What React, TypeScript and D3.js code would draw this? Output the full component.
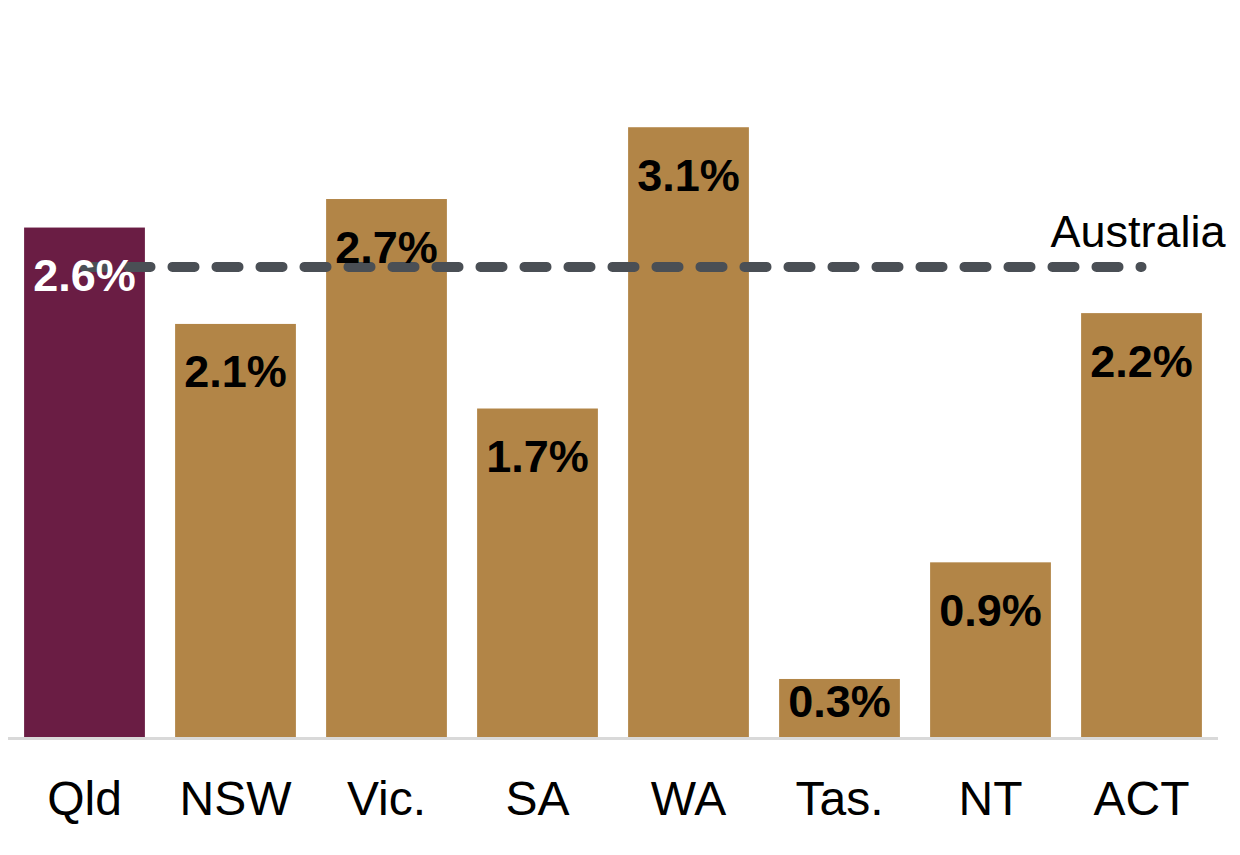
import * as d3 from "d3";

const states = ["Qld", "NSW", "Vic.", "SA", "WA", "Tas.", "NT", "ACT"];
const growth = [2.59, 2.1, 2.735, 1.67, 3.1, 0.295, 0.888, 2.155];
const australia = 2.39;
const australiaLabel = "Australia";

const width = 1240;
const height = 855;
const baseline = 737;
const font = "'Liberation Sans', Arial, sans-serif";

const fmt = (v: number) => `${d3.format(".1f")(v)}%`;

export default function App() {
  const x = d3.scaleBand<string>()
    .domain(states)
    .range([9, 1217])
    .paddingInner(0.2)
    .paddingOuter(0.1);

  const y = d3.scaleLinear()
    .domain([0, 3.5])
    .range([baseline, baseline - 3.5 * 196.7]);

  const bw = x.bandwidth();
  const first = x(states[0])! + bw / 2;
  const last = x(states[states.length - 1])! + bw / 2;

  // label sits near the top of the bar, but stays inside short bars
  const labelY = (v: number) => Math.min(y(v) + 63.5, baseline - 20);

  return (
    <svg
      width={width}
      height={height}
      style={{ position: "absolute", left: 0, top: 0, background: "#fff" }}
      fontFamily={font}
    >
      {states.map((s, i) => (
        <rect
          key={s}
          x={x(s)}
          y={y(growth[i])}
          width={bw}
          height={baseline - y(growth[i])}
          fill={s === "Qld" ? "#6a1d44" : "#b28547"}
        />
      ))}

      <line
        x1={x.range()[0] - 1}
        x2={x.range()[1] + 1}
        y1={baseline + 1.5}
        y2={baseline + 1.5}
        stroke="#d9d9d9"
        strokeWidth={3}
      />

      <line
        x1={first}
        x2={last}
        y1={y(australia)}
        y2={y(australia)}
        stroke="#4a4f55"
        strokeWidth={10}
        strokeDasharray="22 22"
        strokeLinecap="round"
      />
      <text
        x={last + 84}
        y={y(australia) - 20}
        textAnchor="end"
        fontSize={45}
        fill="#000"
      >
        {australiaLabel}
      </text>

      {states.map((s, i) => (
        <text
          key={s}
          x={x(s)! + bw / 2}
          y={labelY(growth[i])}
          textAnchor="middle"
          fontSize={45}
          fontWeight="bold"
          fill={s === "Qld" ? "#fff" : "#000"}
        >
          {fmt(growth[i])}
        </text>
      ))}

      {states.map((s) => (
        <text
          key={s}
          x={x(s)! + bw / 2}
          y={815}
          textAnchor="middle"
          fontSize={48}
          fill="#000"
        >
          {s}
        </text>
      ))}
    </svg>
  );
}
